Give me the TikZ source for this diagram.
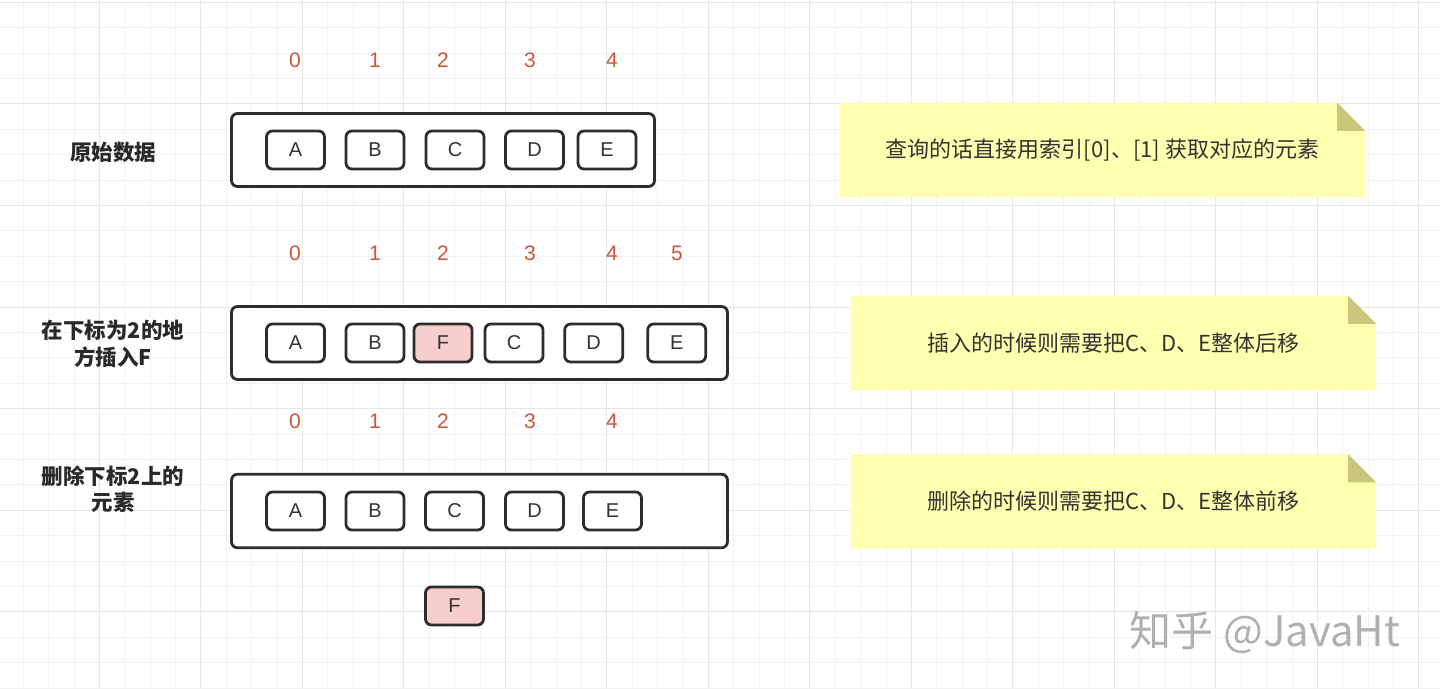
\documentclass[tikz,border=0pt]{standalone}
\usepackage{fontspec}
\setmainfont{Liberation Sans}
\newfontfamily\cjk{Noto Sans CJK SC}
\usetikzlibrary{backgrounds,calc}
\definecolor{gridminor}{RGB}{242,242,242}
\definecolor{gridmajor}{RGB}{230,230,230}
\definecolor{boxline}{RGB}{45,45,45}
\definecolor{txt}{RGB}{51,51,51}
\definecolor{idx}{RGB}{206,84,62}
\definecolor{pinkfill}{RGB}{248,206,204}
\definecolor{notefill}{RGB}{255,255,176}
\definecolor{foldfill}{RGB}{201,199,126}
\definecolor{wmark}{RGB}{176,176,176}
\begin{document}
\begin{tikzpicture}[x=1pt,y=-1pt,
  cell/.style={draw=boxline, line width=2.8pt, rounded corners=6pt, fill=white,
    minimum width=58pt, minimum height=38pt, inner sep=0pt, text=txt,
    font=\fontsize{20}{22}\selectfont},
  pinkcell/.style={cell, fill=pinkfill},
  outerbox/.style={draw=boxline, line width=2.8pt, rounded corners=6pt, fill=white,
    minimum height=73pt, inner sep=0pt},
  index/.style={text=idx, inner sep=0pt, font=\fontsize{21}{22}\selectfont},
  rowlabel/.style={text=txt!80!black, align=center, inner sep=0pt,
    font=\cjk\bfseries\fontsize{21.5}{26.5}\selectfont},
  notebox/.style={minimum width=525pt, minimum height=94pt, inner sep=0pt, text=txt,
    font=\cjk\fontsize{22}{26}\selectfont},
]
\useasboundingbox (0,0) rectangle (1440,688);
% grid
\begin{scope}[on background layer]
  \fill[white] (0,0) rectangle (1440,688);
  \foreach \k in {0,...,55} {
    \draw[gridminor, line width=0.9pt] ({23.3+25.375*\k},0) -- ({23.3+25.375*\k},688);
  }
  \foreach \k in {0,...,27} {
    \draw[gridminor, line width=0.9pt] (0,{2.3+25.4*\k}) -- (1440,{2.3+25.4*\k});
  }
  \foreach \k in {0,...,13} {
    \draw[gridmajor, line width=1pt] ({99.3+101.5*\k},0) -- ({99.3+101.5*\k},688);
  }
  \foreach \k in {0,...,6} {
    \draw[gridmajor, line width=1pt] (0,{2.3+101.6*\k}) -- (1440,{2.3+101.6*\k});
  }
\end{scope}

% ---------- row 1 ----------
\foreach \x/\t [count=\i] in {295/0,375/1,443/2,530/3,612/4}
  \node[index] (ia\i) at (\x,60) {\t};
\node[outerbox, minimum width=423pt] (r1) at (443,150) {};
\node[cell] (a1) at (295.5,150) {A};
\node[cell] (b1) at (375,150) {B};
\node[cell] (c1) at (455,150) {C};
\node[cell] (d1) at (534.5,150) {D};
\node[cell] (e1) at (607,150) {E};
\node[rowlabel] (l1) at (113,152) {原始数据};

% ---------- row 2 ----------
\foreach \x/\t [count=\i] in {295/0,375/1,443/2,530/3,612/4,677/5}
  \node[index] (ib\i) at (\x,253) {\t};
\node[outerbox, minimum width=496pt] (r2) at (479.5,343) {};
\node[cell] (a2) at (295.5,343) {A};
\node[cell] (b2) at (375,343) {B};
\node[pinkcell] (f2) at (443,343) {F};
\node[cell] (c2) at (514,343) {C};
\node[cell] (d2) at (593.7,343) {D};
\node[cell] (e2) at (676.7,343) {E};
\node[rowlabel] (l2) at (113,344) {在下标为2的地\\方插入F};

% ---------- row 3 ----------
\foreach \x/\t [count=\i] in {295/0,375/1,443/2,530/3,612/4}
  \node[index] (ic\i) at (\x,421) {\t};
\node[outerbox, minimum width=496pt, minimum height=73.6pt] (r3) at (479.5,511) {};
\node[cell] (a3) at (295.5,511) {A};
\node[cell] (b3) at (375,511) {B};
\node[cell] (c3) at (454.5,511) {C};
\node[cell] (d3) at (534.5,511) {D};
\node[cell] (e3) at (612.5,511) {E};
\node[rowlabel] (l3) at (113,489) {删除下标2上的\\元素};

% removed element
\node[pinkcell] (f3) at (454.5,606) {F};

% ---------- notes ----------
\node[notebox] (n1) at (1102.5,150) {查询的话直接用索引[0]、[1] 获取对应的元素};
\node[notebox] (n2) at (1113.5,343) {插入的时候则需要把C、D、E整体后移};
\node[notebox] (n3) at (1113.5,501.5) {删除的时候则需要把C、D、E整体前移};
\begin{scope}[on background layer]
  \foreach \n in {n1,n2,n3} {
    \fill[notefill] (\n.south west) -- (\n.north west) -- ([xshift=-28pt]\n.north east)
      -- ([yshift=-28pt]\n.north east) -- (\n.south east) -- cycle;
    \fill[foldfill] ([xshift=-28pt]\n.north east) -- ([xshift=-28pt,yshift=-28pt]\n.north east)
      -- ([yshift=-28pt]\n.north east) -- cycle;
  }
\end{scope}

% watermark
\node[text=white, font=\cjk\fontsize{42}{42}\selectfont, inner sep=0pt] (wms) at (1266.5,633.5) {知乎 @JavaHt};
\node[text=wmark, font=\cjk\fontsize{42}{42}\selectfont, inner sep=0pt] (wm) at (1265,632) {知乎 @JavaHt};
\end{tikzpicture}
\end{document}
